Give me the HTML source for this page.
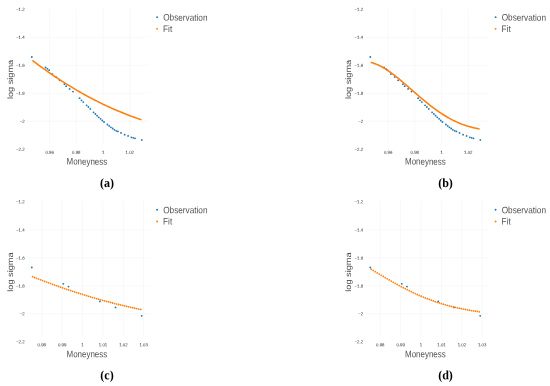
<!DOCTYPE html>
<html><head><meta charset="utf-8"><style>
html,body{margin:0;padding:0;background:#fff;}
svg{display:block;filter:blur(0.2px);}
text{text-rendering:geometricPrecision;}
.tk{font-family:"Liberation Sans",sans-serif;font-size:4.3px;fill:#3a3a3a;stroke:#3a3a3a;stroke-width:0.05px;}
.lg{font-family:"Liberation Sans",sans-serif;font-size:9.4px;fill:#525252;}
.yt{font-family:"Liberation Sans",sans-serif;font-size:9.3px;fill:#4c4c4c;}
.lab{font-family:"Liberation Serif",serif;font-size:12.8px;font-weight:bold;fill:#000;}
</style></head><body>
<svg width="550" height="386" viewBox="0 0 550 386">
<rect width="550" height="386" fill="#fff"/>
<g transform="translate(0,0)">
<line x1="27.2" x2="149.5" y1="37.3" y2="37.3" stroke="#f4f4f4" stroke-width="0.6"/>
<line x1="27.2" x2="149.5" y1="65.3" y2="65.3" stroke="#f4f4f4" stroke-width="0.6"/>
<line x1="27.2" x2="149.5" y1="93.3" y2="93.3" stroke="#f4f4f4" stroke-width="0.6"/>
<line x1="27.2" x2="149.5" y1="121.2" y2="121.2" stroke="#f4f4f4" stroke-width="0.6"/>
<line x1="49.6" x2="49.6" y1="8.6" y2="144" stroke="#f4f4f4" stroke-width="0.6"/>
<line x1="76.3" x2="76.3" y1="8.6" y2="144" stroke="#f4f4f4" stroke-width="0.6"/>
<line x1="103.1" x2="103.1" y1="8.6" y2="144" stroke="#f4f4f4" stroke-width="0.6"/>
<line x1="129.8" x2="129.8" y1="8.6" y2="144" stroke="#f4f4f4" stroke-width="0.6"/>
<text class="tk" transform="translate(24.6,10.75) rotate(0.1)" text-anchor="end">−1.2</text>
<text class="tk" transform="translate(24.6,38.85) rotate(0.1)" text-anchor="end">−1.4</text>
<text class="tk" transform="translate(24.6,66.85) rotate(0.1)" text-anchor="end">−1.6</text>
<text class="tk" transform="translate(24.6,94.85) rotate(0.1)" text-anchor="end">−1.8</text>
<text class="tk" transform="translate(24.6,122.75) rotate(0.1)" text-anchor="end">−2</text>
<text class="tk" transform="translate(24.6,150.75) rotate(0.1)" text-anchor="end">−2.2</text>
<text class="tk" transform="translate(49.6,153.7) rotate(0.1)" text-anchor="middle">0.96</text>
<text class="tk" transform="translate(76.3,153.7) rotate(0.1)" text-anchor="middle">0.98</text>
<text class="tk" transform="translate(103.1,153.7) rotate(0.1)" text-anchor="middle">1</text>
<text class="tk" transform="translate(129.8,153.7) rotate(0.1)" text-anchor="middle">1.02</text>
<circle cx="31.8" cy="57.0" r="0.92" fill="#1f77b4"/>
<circle cx="45.6" cy="67.5" r="0.92" fill="#1f77b4"/>
<circle cx="47.4" cy="68.8" r="0.92" fill="#1f77b4"/>
<circle cx="49.1" cy="70.2" r="0.92" fill="#1f77b4"/>
<circle cx="52.4" cy="74.1" r="0.92" fill="#1f77b4"/>
<circle cx="56.2" cy="77.1" r="0.92" fill="#1f77b4"/>
<circle cx="59.6" cy="80.3" r="0.92" fill="#1f77b4"/>
<circle cx="64.4" cy="84.2" r="0.92" fill="#1f77b4"/>
<circle cx="66.2" cy="86.2" r="0.92" fill="#1f77b4"/>
<circle cx="69.6" cy="88.9" r="0.92" fill="#1f77b4"/>
<circle cx="73.0" cy="91.6" r="0.92" fill="#1f77b4"/>
<circle cx="79.6" cy="98.2" r="0.92" fill="#1f77b4"/>
<circle cx="81.5" cy="100.3" r="0.92" fill="#1f77b4"/>
<circle cx="83.3" cy="102.1" r="0.92" fill="#1f77b4"/>
<circle cx="86.6" cy="105.3" r="0.92" fill="#1f77b4"/>
<circle cx="88.4" cy="107.0" r="0.92" fill="#1f77b4"/>
<circle cx="90.3" cy="108.9" r="0.92" fill="#1f77b4"/>
<circle cx="93.6" cy="112.3" r="0.92" fill="#1f77b4"/>
<circle cx="95.4" cy="114.0" r="0.92" fill="#1f77b4"/>
<circle cx="97.1" cy="115.7" r="0.92" fill="#1f77b4"/>
<circle cx="98.8" cy="117.3" r="0.92" fill="#1f77b4"/>
<circle cx="100.6" cy="118.8" r="0.92" fill="#1f77b4"/>
<circle cx="102.3" cy="120.5" r="0.92" fill="#1f77b4"/>
<circle cx="104.0" cy="122.0" r="0.92" fill="#1f77b4"/>
<circle cx="107.4" cy="124.5" r="0.92" fill="#1f77b4"/>
<circle cx="109.2" cy="125.9" r="0.92" fill="#1f77b4"/>
<circle cx="110.9" cy="127.3" r="0.92" fill="#1f77b4"/>
<circle cx="112.7" cy="128.5" r="0.92" fill="#1f77b4"/>
<circle cx="114.4" cy="129.8" r="0.92" fill="#1f77b4"/>
<circle cx="116.2" cy="130.8" r="0.92" fill="#1f77b4"/>
<circle cx="117.9" cy="131.4" r="0.92" fill="#1f77b4"/>
<circle cx="121.0" cy="132.9" r="0.92" fill="#1f77b4"/>
<circle cx="124.6" cy="134.7" r="0.92" fill="#1f77b4"/>
<circle cx="128.1" cy="135.9" r="0.92" fill="#1f77b4"/>
<circle cx="131.4" cy="137.3" r="0.92" fill="#1f77b4"/>
<circle cx="133.2" cy="137.8" r="0.92" fill="#1f77b4"/>
<circle cx="135.0" cy="138.3" r="0.92" fill="#1f77b4"/>
<circle cx="141.8" cy="139.9" r="0.92" fill="#1f77b4"/>
<path d="M32.40,60.46 L33.63,61.39 L34.85,62.31 L36.08,63.23 L37.30,64.14 L38.53,65.04 L39.76,65.94 L40.98,66.84 L42.21,67.72 L43.43,68.60 L44.66,69.48 L45.88,70.35 L47.11,71.21 L48.34,72.06 L49.56,72.91 L50.79,73.76 L52.01,74.60 L53.24,75.43 L54.47,76.26 L55.69,77.08 L56.92,77.89 L58.14,78.70 L59.37,79.50 L60.59,80.30 L61.82,81.09 L63.05,81.87 L64.27,82.65 L65.50,83.42 L66.72,84.19 L67.95,84.95 L69.18,85.71 L70.40,86.46 L71.63,87.20 L72.85,87.93 L74.08,88.67 L75.30,89.39 L76.53,90.11 L77.76,90.82 L78.98,91.53 L80.21,92.23 L81.43,92.93 L82.66,93.62 L83.89,94.30 L85.11,94.98 L86.34,95.65 L87.56,96.31 L88.79,96.97 L90.01,97.63 L91.24,98.28 L92.47,98.92 L93.69,99.55 L94.92,100.19 L96.14,100.81 L97.37,101.43 L98.60,102.04 L99.82,102.65 L101.05,103.25 L102.27,103.84 L103.50,104.43 L104.72,105.02 L105.95,105.59 L107.18,106.16 L108.40,106.73 L109.63,107.29 L110.85,107.84 L112.08,108.39 L113.31,108.93 L114.53,109.47 L115.76,110.00 L116.98,110.53 L118.21,111.04 L119.43,111.56 L120.66,112.07 L121.89,112.57 L123.11,113.06 L124.34,113.55 L125.56,114.04 L126.79,114.51 L128.02,114.99 L129.24,115.45 L130.47,115.91 L131.69,116.37 L132.92,116.82 L134.14,117.26 L135.37,117.70 L136.60,118.13 L137.82,118.55 L139.05,118.97 L140.27,119.39 L141.50,119.80" fill="none" stroke="#ff7f0e" stroke-width="1.55" stroke-linejoin="round"/>
<circle cx="157.1" cy="17.15" r="0.95" fill="#1f77b4"/>
<circle cx="157.1" cy="28.85" r="0.95" fill="#ff7f0e"/>
<text class="lg" transform="translate(163.2,20.6) rotate(0.1)" textLength="44.3" lengthAdjust="spacingAndGlyphs">Observation</text>
<text class="lg" transform="translate(163.1,31.9) rotate(0.1)" textLength="9.1" lengthAdjust="spacingAndGlyphs">Fit</text>
<text class="lg" transform="translate(66.5,164.6) rotate(0.1)" textLength="40.7" lengthAdjust="spacingAndGlyphs">Moneyness</text>
<text class="yt" transform="translate(12.7,99.1) scale(0.85,1) rotate(-90)" x="0" y="0" textLength="39.3" lengthAdjust="spacingAndGlyphs">log sigma</text>
<text class="lab" transform="translate(107.0,186.95) rotate(0.1) scale(0.94,1)" text-anchor="middle">(a)</text>
</g>
<g transform="translate(338.5,0)">
<line x1="27.2" x2="149.5" y1="37.3" y2="37.3" stroke="#f4f4f4" stroke-width="0.6"/>
<line x1="27.2" x2="149.5" y1="65.3" y2="65.3" stroke="#f4f4f4" stroke-width="0.6"/>
<line x1="27.2" x2="149.5" y1="93.3" y2="93.3" stroke="#f4f4f4" stroke-width="0.6"/>
<line x1="27.2" x2="149.5" y1="121.2" y2="121.2" stroke="#f4f4f4" stroke-width="0.6"/>
<line x1="49.6" x2="49.6" y1="8.6" y2="144" stroke="#f4f4f4" stroke-width="0.6"/>
<line x1="76.3" x2="76.3" y1="8.6" y2="144" stroke="#f4f4f4" stroke-width="0.6"/>
<line x1="103.1" x2="103.1" y1="8.6" y2="144" stroke="#f4f4f4" stroke-width="0.6"/>
<line x1="129.8" x2="129.8" y1="8.6" y2="144" stroke="#f4f4f4" stroke-width="0.6"/>
<text class="tk" transform="translate(24.6,10.75) rotate(0.1)" text-anchor="end">−1.2</text>
<text class="tk" transform="translate(24.6,38.85) rotate(0.1)" text-anchor="end">−1.4</text>
<text class="tk" transform="translate(24.6,66.85) rotate(0.1)" text-anchor="end">−1.6</text>
<text class="tk" transform="translate(24.6,94.85) rotate(0.1)" text-anchor="end">−1.8</text>
<text class="tk" transform="translate(24.6,122.75) rotate(0.1)" text-anchor="end">−2</text>
<text class="tk" transform="translate(24.6,150.75) rotate(0.1)" text-anchor="end">−2.2</text>
<text class="tk" transform="translate(49.6,153.7) rotate(0.1)" text-anchor="middle">0.96</text>
<text class="tk" transform="translate(76.3,153.7) rotate(0.1)" text-anchor="middle">0.98</text>
<text class="tk" transform="translate(103.1,153.7) rotate(0.1)" text-anchor="middle">1</text>
<text class="tk" transform="translate(129.8,153.7) rotate(0.1)" text-anchor="middle">1.02</text>
<circle cx="31.8" cy="57.0" r="0.92" fill="#1f77b4"/>
<circle cx="45.6" cy="67.5" r="0.92" fill="#1f77b4"/>
<circle cx="47.4" cy="68.8" r="0.92" fill="#1f77b4"/>
<circle cx="49.1" cy="70.2" r="0.92" fill="#1f77b4"/>
<circle cx="52.4" cy="74.1" r="0.92" fill="#1f77b4"/>
<circle cx="56.2" cy="77.1" r="0.92" fill="#1f77b4"/>
<circle cx="59.6" cy="80.3" r="0.92" fill="#1f77b4"/>
<circle cx="64.4" cy="84.2" r="0.92" fill="#1f77b4"/>
<circle cx="66.2" cy="86.2" r="0.92" fill="#1f77b4"/>
<circle cx="69.6" cy="88.9" r="0.92" fill="#1f77b4"/>
<circle cx="73.0" cy="91.6" r="0.92" fill="#1f77b4"/>
<circle cx="79.6" cy="98.2" r="0.92" fill="#1f77b4"/>
<circle cx="81.5" cy="100.3" r="0.92" fill="#1f77b4"/>
<circle cx="83.3" cy="102.1" r="0.92" fill="#1f77b4"/>
<circle cx="86.6" cy="105.3" r="0.92" fill="#1f77b4"/>
<circle cx="88.4" cy="107.0" r="0.92" fill="#1f77b4"/>
<circle cx="90.3" cy="108.9" r="0.92" fill="#1f77b4"/>
<circle cx="93.6" cy="112.3" r="0.92" fill="#1f77b4"/>
<circle cx="95.4" cy="114.0" r="0.92" fill="#1f77b4"/>
<circle cx="97.1" cy="115.7" r="0.92" fill="#1f77b4"/>
<circle cx="98.8" cy="117.3" r="0.92" fill="#1f77b4"/>
<circle cx="100.6" cy="118.8" r="0.92" fill="#1f77b4"/>
<circle cx="102.3" cy="120.5" r="0.92" fill="#1f77b4"/>
<circle cx="104.0" cy="122.0" r="0.92" fill="#1f77b4"/>
<circle cx="107.4" cy="124.5" r="0.92" fill="#1f77b4"/>
<circle cx="109.2" cy="125.9" r="0.92" fill="#1f77b4"/>
<circle cx="110.9" cy="127.3" r="0.92" fill="#1f77b4"/>
<circle cx="112.7" cy="128.5" r="0.92" fill="#1f77b4"/>
<circle cx="114.4" cy="129.8" r="0.92" fill="#1f77b4"/>
<circle cx="116.2" cy="130.8" r="0.92" fill="#1f77b4"/>
<circle cx="117.9" cy="131.4" r="0.92" fill="#1f77b4"/>
<circle cx="121.0" cy="132.9" r="0.92" fill="#1f77b4"/>
<circle cx="124.6" cy="134.7" r="0.92" fill="#1f77b4"/>
<circle cx="128.1" cy="135.9" r="0.92" fill="#1f77b4"/>
<circle cx="131.4" cy="137.3" r="0.92" fill="#1f77b4"/>
<circle cx="133.2" cy="137.8" r="0.92" fill="#1f77b4"/>
<circle cx="135.0" cy="138.3" r="0.92" fill="#1f77b4"/>
<circle cx="141.8" cy="139.9" r="0.92" fill="#1f77b4"/>
<path d="M32.20,62.37 L33.42,62.68 L34.65,63.04 L35.87,63.44 L37.10,63.90 L38.32,64.39 L39.55,64.93 L40.77,65.51 L42.00,66.13 L43.22,66.78 L44.45,67.47 L45.67,68.19 L46.90,68.95 L48.12,69.73 L49.35,70.54 L50.57,71.38 L51.80,72.25 L53.02,73.13 L54.24,74.04 L55.47,74.97 L56.69,75.92 L57.92,76.89 L59.14,77.87 L60.37,78.87 L61.59,79.88 L62.82,80.90 L64.04,81.94 L65.27,82.98 L66.49,84.03 L67.72,85.08 L68.94,86.15 L70.17,87.21 L71.39,88.28 L72.62,89.35 L73.84,90.42 L75.07,91.49 L76.29,92.56 L77.51,93.62 L78.74,94.68 L79.96,95.74 L81.19,96.79 L82.41,97.83 L83.64,98.86 L84.86,99.89 L86.09,100.91 L87.31,101.91 L88.54,102.91 L89.76,103.89 L90.99,104.86 L92.21,105.82 L93.44,106.76 L94.66,107.69 L95.89,108.60 L97.11,109.49 L98.33,110.37 L99.56,111.23 L100.78,112.08 L102.01,112.90 L103.23,113.71 L104.46,114.50 L105.68,115.27 L106.91,116.02 L108.13,116.75 L109.36,117.46 L110.58,118.15 L111.81,118.82 L113.03,119.47 L114.26,120.09 L115.48,120.70 L116.71,121.29 L117.93,121.85 L119.16,122.40 L120.38,122.92 L121.60,123.43 L122.83,123.91 L124.05,124.38 L125.28,124.82 L126.50,125.24 L127.73,125.65 L128.95,126.04 L130.18,126.40 L131.40,126.75 L132.63,127.09 L133.85,127.40 L135.08,127.70 L136.30,127.99 L137.53,128.26 L138.75,128.51 L139.98,128.76 L141.20,128.98" fill="none" stroke="#ff7f0e" stroke-width="1.55" stroke-linejoin="round"/>
<circle cx="157.1" cy="17.15" r="0.95" fill="#1f77b4"/>
<circle cx="157.1" cy="28.85" r="0.95" fill="#ff7f0e"/>
<text class="lg" transform="translate(163.2,20.6) rotate(0.1)" textLength="44.3" lengthAdjust="spacingAndGlyphs">Observation</text>
<text class="lg" transform="translate(163.1,31.9) rotate(0.1)" textLength="9.1" lengthAdjust="spacingAndGlyphs">Fit</text>
<text class="lg" transform="translate(66.5,164.6) rotate(0.1)" textLength="40.7" lengthAdjust="spacingAndGlyphs">Moneyness</text>
<text class="yt" transform="translate(12.7,99.1) scale(0.85,1) rotate(-90)" x="0" y="0" textLength="39.3" lengthAdjust="spacingAndGlyphs">log sigma</text>
<text class="lab" transform="translate(107.0,186.95) rotate(0.1) scale(0.94,1)" text-anchor="middle">(b)</text>
</g>
<g transform="translate(0,192.6)">
<line x1="27.2" x2="149.5" y1="37.3" y2="37.3" stroke="#f4f4f4" stroke-width="0.6"/>
<line x1="27.2" x2="149.5" y1="65.3" y2="65.3" stroke="#f4f4f4" stroke-width="0.6"/>
<line x1="27.2" x2="149.5" y1="93.3" y2="93.3" stroke="#f4f4f4" stroke-width="0.6"/>
<line x1="27.2" x2="149.5" y1="121.2" y2="121.2" stroke="#f4f4f4" stroke-width="0.6"/>
<line x1="41.8" x2="41.8" y1="8.6" y2="143.6" stroke="#f4f4f4" stroke-width="0.6"/>
<line x1="62.1" x2="62.1" y1="8.6" y2="143.6" stroke="#f4f4f4" stroke-width="0.6"/>
<line x1="82.5" x2="82.5" y1="8.6" y2="143.6" stroke="#f4f4f4" stroke-width="0.6"/>
<line x1="103.0" x2="103.0" y1="8.6" y2="143.6" stroke="#f4f4f4" stroke-width="0.6"/>
<line x1="123.4" x2="123.4" y1="8.6" y2="143.6" stroke="#f4f4f4" stroke-width="0.6"/>
<line x1="143.6" x2="143.6" y1="8.6" y2="143.6" stroke="#f4f4f4" stroke-width="0.6"/>
<text class="tk" transform="translate(24.6,10.75) rotate(0.1)" text-anchor="end">−1.2</text>
<text class="tk" transform="translate(24.6,38.85) rotate(0.1)" text-anchor="end">−1.4</text>
<text class="tk" transform="translate(24.6,66.85) rotate(0.1)" text-anchor="end">−1.6</text>
<text class="tk" transform="translate(24.6,94.85) rotate(0.1)" text-anchor="end">−1.8</text>
<text class="tk" transform="translate(24.6,122.75) rotate(0.1)" text-anchor="end">−2</text>
<text class="tk" transform="translate(24.6,150.75) rotate(0.1)" text-anchor="end">−2.2</text>
<text class="tk" transform="translate(41.8,153.7) rotate(0.1)" text-anchor="middle">0.98</text>
<text class="tk" transform="translate(62.1,153.7) rotate(0.1)" text-anchor="middle">0.99</text>
<text class="tk" transform="translate(82.5,153.7) rotate(0.1)" text-anchor="middle">1</text>
<text class="tk" transform="translate(103.0,153.7) rotate(0.1)" text-anchor="middle">1.01</text>
<text class="tk" transform="translate(123.4,153.7) rotate(0.1)" text-anchor="middle">1.02</text>
<text class="tk" transform="translate(143.6,153.7) rotate(0.1)" text-anchor="middle">1.03</text>
<circle cx="31.8" cy="74.9" r="0.92" fill="#1f77b4"/>
<circle cx="63.3" cy="91.2" r="0.92" fill="#1f77b4"/>
<circle cx="68.5" cy="94.0" r="0.92" fill="#1f77b4"/>
<circle cx="99.8" cy="108.8" r="0.92" fill="#1f77b4"/>
<circle cx="115.5" cy="114.8" r="0.92" fill="#1f77b4"/>
<circle cx="141.7" cy="123.2" r="0.92" fill="#1f77b4"/>
<circle cx="32.60" cy="84.11" r="0.88" fill="#ff7f0e"/>
<circle cx="34.60" cy="84.90" r="0.88" fill="#ff7f0e"/>
<circle cx="36.60" cy="85.69" r="0.88" fill="#ff7f0e"/>
<circle cx="38.61" cy="86.47" r="0.88" fill="#ff7f0e"/>
<circle cx="40.61" cy="87.24" r="0.88" fill="#ff7f0e"/>
<circle cx="42.61" cy="88.01" r="0.88" fill="#ff7f0e"/>
<circle cx="44.61" cy="88.77" r="0.88" fill="#ff7f0e"/>
<circle cx="46.61" cy="89.52" r="0.88" fill="#ff7f0e"/>
<circle cx="48.61" cy="90.27" r="0.88" fill="#ff7f0e"/>
<circle cx="50.62" cy="91.01" r="0.88" fill="#ff7f0e"/>
<circle cx="52.62" cy="91.74" r="0.88" fill="#ff7f0e"/>
<circle cx="54.62" cy="92.47" r="0.88" fill="#ff7f0e"/>
<circle cx="56.62" cy="93.19" r="0.88" fill="#ff7f0e"/>
<circle cx="58.62" cy="93.90" r="0.88" fill="#ff7f0e"/>
<circle cx="60.63" cy="94.60" r="0.88" fill="#ff7f0e"/>
<circle cx="62.63" cy="95.30" r="0.88" fill="#ff7f0e"/>
<circle cx="64.63" cy="95.99" r="0.88" fill="#ff7f0e"/>
<circle cx="66.63" cy="96.67" r="0.88" fill="#ff7f0e"/>
<circle cx="68.63" cy="97.35" r="0.88" fill="#ff7f0e"/>
<circle cx="70.64" cy="98.02" r="0.88" fill="#ff7f0e"/>
<circle cx="72.64" cy="98.68" r="0.88" fill="#ff7f0e"/>
<circle cx="74.64" cy="99.34" r="0.88" fill="#ff7f0e"/>
<circle cx="76.64" cy="99.98" r="0.88" fill="#ff7f0e"/>
<circle cx="78.64" cy="100.62" r="0.88" fill="#ff7f0e"/>
<circle cx="80.64" cy="101.26" r="0.88" fill="#ff7f0e"/>
<circle cx="82.65" cy="101.88" r="0.88" fill="#ff7f0e"/>
<circle cx="84.65" cy="102.50" r="0.88" fill="#ff7f0e"/>
<circle cx="86.65" cy="103.11" r="0.88" fill="#ff7f0e"/>
<circle cx="88.65" cy="103.72" r="0.88" fill="#ff7f0e"/>
<circle cx="90.65" cy="104.32" r="0.88" fill="#ff7f0e"/>
<circle cx="92.66" cy="104.91" r="0.88" fill="#ff7f0e"/>
<circle cx="94.66" cy="105.49" r="0.88" fill="#ff7f0e"/>
<circle cx="96.66" cy="106.06" r="0.88" fill="#ff7f0e"/>
<circle cx="98.66" cy="106.63" r="0.88" fill="#ff7f0e"/>
<circle cx="100.66" cy="107.19" r="0.88" fill="#ff7f0e"/>
<circle cx="102.66" cy="107.74" r="0.88" fill="#ff7f0e"/>
<circle cx="104.67" cy="108.29" r="0.88" fill="#ff7f0e"/>
<circle cx="106.67" cy="108.83" r="0.88" fill="#ff7f0e"/>
<circle cx="108.67" cy="109.36" r="0.88" fill="#ff7f0e"/>
<circle cx="110.67" cy="109.88" r="0.88" fill="#ff7f0e"/>
<circle cx="112.67" cy="110.40" r="0.88" fill="#ff7f0e"/>
<circle cx="114.68" cy="110.91" r="0.88" fill="#ff7f0e"/>
<circle cx="116.68" cy="111.41" r="0.88" fill="#ff7f0e"/>
<circle cx="118.68" cy="111.90" r="0.88" fill="#ff7f0e"/>
<circle cx="120.68" cy="112.39" r="0.88" fill="#ff7f0e"/>
<circle cx="122.68" cy="112.87" r="0.88" fill="#ff7f0e"/>
<circle cx="124.69" cy="113.34" r="0.88" fill="#ff7f0e"/>
<circle cx="126.69" cy="113.80" r="0.88" fill="#ff7f0e"/>
<circle cx="128.69" cy="114.25" r="0.88" fill="#ff7f0e"/>
<circle cx="130.69" cy="114.70" r="0.88" fill="#ff7f0e"/>
<circle cx="132.69" cy="115.14" r="0.88" fill="#ff7f0e"/>
<circle cx="134.69" cy="115.58" r="0.88" fill="#ff7f0e"/>
<circle cx="136.70" cy="116.00" r="0.88" fill="#ff7f0e"/>
<circle cx="138.70" cy="116.42" r="0.88" fill="#ff7f0e"/>
<circle cx="140.70" cy="116.83" r="0.88" fill="#ff7f0e"/>
<circle cx="157.1" cy="17.15" r="0.95" fill="#1f77b4"/>
<circle cx="157.1" cy="28.85" r="0.95" fill="#ff7f0e"/>
<text class="lg" transform="translate(163.2,20.6) rotate(0.1)" textLength="44.3" lengthAdjust="spacingAndGlyphs">Observation</text>
<text class="lg" transform="translate(163.1,31.9) rotate(0.1)" textLength="9.1" lengthAdjust="spacingAndGlyphs">Fit</text>
<text class="lg" transform="translate(66.5,164.6) rotate(0.1)" textLength="40.7" lengthAdjust="spacingAndGlyphs">Moneyness</text>
<text class="yt" transform="translate(12.7,99.1) scale(0.85,1) rotate(-90)" x="0" y="0" textLength="39.3" lengthAdjust="spacingAndGlyphs">log sigma</text>
<text class="lab" transform="translate(107.0,186.55) rotate(0.1) scale(0.94,1)" text-anchor="middle">(c)</text>
</g>
<g transform="translate(338.5,192.6)">
<line x1="27.2" x2="149.5" y1="37.3" y2="37.3" stroke="#f4f4f4" stroke-width="0.6"/>
<line x1="27.2" x2="149.5" y1="65.3" y2="65.3" stroke="#f4f4f4" stroke-width="0.6"/>
<line x1="27.2" x2="149.5" y1="93.3" y2="93.3" stroke="#f4f4f4" stroke-width="0.6"/>
<line x1="27.2" x2="149.5" y1="121.2" y2="121.2" stroke="#f4f4f4" stroke-width="0.6"/>
<line x1="41.8" x2="41.8" y1="8.6" y2="143.6" stroke="#f4f4f4" stroke-width="0.6"/>
<line x1="62.1" x2="62.1" y1="8.6" y2="143.6" stroke="#f4f4f4" stroke-width="0.6"/>
<line x1="82.5" x2="82.5" y1="8.6" y2="143.6" stroke="#f4f4f4" stroke-width="0.6"/>
<line x1="103.0" x2="103.0" y1="8.6" y2="143.6" stroke="#f4f4f4" stroke-width="0.6"/>
<line x1="123.4" x2="123.4" y1="8.6" y2="143.6" stroke="#f4f4f4" stroke-width="0.6"/>
<line x1="143.6" x2="143.6" y1="8.6" y2="143.6" stroke="#f4f4f4" stroke-width="0.6"/>
<text class="tk" transform="translate(24.6,10.75) rotate(0.1)" text-anchor="end">−1.2</text>
<text class="tk" transform="translate(24.6,38.85) rotate(0.1)" text-anchor="end">−1.4</text>
<text class="tk" transform="translate(24.6,66.85) rotate(0.1)" text-anchor="end">−1.6</text>
<text class="tk" transform="translate(24.6,94.85) rotate(0.1)" text-anchor="end">−1.8</text>
<text class="tk" transform="translate(24.6,122.75) rotate(0.1)" text-anchor="end">−2</text>
<text class="tk" transform="translate(24.6,150.75) rotate(0.1)" text-anchor="end">−2.2</text>
<text class="tk" transform="translate(41.8,153.7) rotate(0.1)" text-anchor="middle">0.98</text>
<text class="tk" transform="translate(62.1,153.7) rotate(0.1)" text-anchor="middle">0.99</text>
<text class="tk" transform="translate(82.5,153.7) rotate(0.1)" text-anchor="middle">1</text>
<text class="tk" transform="translate(103.0,153.7) rotate(0.1)" text-anchor="middle">1.01</text>
<text class="tk" transform="translate(123.4,153.7) rotate(0.1)" text-anchor="middle">1.02</text>
<text class="tk" transform="translate(143.6,153.7) rotate(0.1)" text-anchor="middle">1.03</text>
<circle cx="31.8" cy="74.9" r="0.92" fill="#1f77b4"/>
<circle cx="63.3" cy="91.2" r="0.92" fill="#1f77b4"/>
<circle cx="68.5" cy="94.0" r="0.92" fill="#1f77b4"/>
<circle cx="99.8" cy="108.8" r="0.92" fill="#1f77b4"/>
<circle cx="115.5" cy="114.8" r="0.92" fill="#1f77b4"/>
<circle cx="141.7" cy="123.2" r="0.92" fill="#1f77b4"/>
<circle cx="32.70" cy="76.68" r="0.88" fill="#ff7f0e"/>
<circle cx="34.70" cy="77.89" r="0.88" fill="#ff7f0e"/>
<circle cx="36.70" cy="79.09" r="0.88" fill="#ff7f0e"/>
<circle cx="38.71" cy="80.30" r="0.88" fill="#ff7f0e"/>
<circle cx="40.71" cy="81.50" r="0.88" fill="#ff7f0e"/>
<circle cx="42.71" cy="82.69" r="0.88" fill="#ff7f0e"/>
<circle cx="44.71" cy="83.88" r="0.88" fill="#ff7f0e"/>
<circle cx="46.71" cy="85.05" r="0.88" fill="#ff7f0e"/>
<circle cx="48.71" cy="86.22" r="0.88" fill="#ff7f0e"/>
<circle cx="50.72" cy="87.38" r="0.88" fill="#ff7f0e"/>
<circle cx="52.72" cy="88.53" r="0.88" fill="#ff7f0e"/>
<circle cx="54.72" cy="89.66" r="0.88" fill="#ff7f0e"/>
<circle cx="56.72" cy="90.78" r="0.88" fill="#ff7f0e"/>
<circle cx="58.72" cy="91.88" r="0.88" fill="#ff7f0e"/>
<circle cx="60.73" cy="92.97" r="0.88" fill="#ff7f0e"/>
<circle cx="62.73" cy="94.04" r="0.88" fill="#ff7f0e"/>
<circle cx="64.73" cy="95.09" r="0.88" fill="#ff7f0e"/>
<circle cx="66.73" cy="96.13" r="0.88" fill="#ff7f0e"/>
<circle cx="68.73" cy="97.14" r="0.88" fill="#ff7f0e"/>
<circle cx="70.74" cy="98.14" r="0.88" fill="#ff7f0e"/>
<circle cx="72.74" cy="99.11" r="0.88" fill="#ff7f0e"/>
<circle cx="74.74" cy="100.06" r="0.88" fill="#ff7f0e"/>
<circle cx="76.74" cy="100.99" r="0.88" fill="#ff7f0e"/>
<circle cx="78.74" cy="101.90" r="0.88" fill="#ff7f0e"/>
<circle cx="80.74" cy="102.79" r="0.88" fill="#ff7f0e"/>
<circle cx="82.75" cy="103.65" r="0.88" fill="#ff7f0e"/>
<circle cx="84.75" cy="104.49" r="0.88" fill="#ff7f0e"/>
<circle cx="86.75" cy="105.31" r="0.88" fill="#ff7f0e"/>
<circle cx="88.75" cy="106.10" r="0.88" fill="#ff7f0e"/>
<circle cx="90.75" cy="106.87" r="0.88" fill="#ff7f0e"/>
<circle cx="92.76" cy="107.62" r="0.88" fill="#ff7f0e"/>
<circle cx="94.76" cy="108.34" r="0.88" fill="#ff7f0e"/>
<circle cx="96.76" cy="109.04" r="0.88" fill="#ff7f0e"/>
<circle cx="98.76" cy="109.71" r="0.88" fill="#ff7f0e"/>
<circle cx="100.76" cy="110.36" r="0.88" fill="#ff7f0e"/>
<circle cx="102.76" cy="110.99" r="0.88" fill="#ff7f0e"/>
<circle cx="104.77" cy="111.59" r="0.88" fill="#ff7f0e"/>
<circle cx="106.77" cy="112.17" r="0.88" fill="#ff7f0e"/>
<circle cx="108.77" cy="112.73" r="0.88" fill="#ff7f0e"/>
<circle cx="110.77" cy="113.27" r="0.88" fill="#ff7f0e"/>
<circle cx="112.77" cy="113.78" r="0.88" fill="#ff7f0e"/>
<circle cx="114.78" cy="114.28" r="0.88" fill="#ff7f0e"/>
<circle cx="116.78" cy="114.75" r="0.88" fill="#ff7f0e"/>
<circle cx="118.78" cy="115.21" r="0.88" fill="#ff7f0e"/>
<circle cx="120.78" cy="115.64" r="0.88" fill="#ff7f0e"/>
<circle cx="122.78" cy="116.06" r="0.88" fill="#ff7f0e"/>
<circle cx="124.79" cy="116.46" r="0.88" fill="#ff7f0e"/>
<circle cx="126.79" cy="116.85" r="0.88" fill="#ff7f0e"/>
<circle cx="128.79" cy="117.21" r="0.88" fill="#ff7f0e"/>
<circle cx="130.79" cy="117.57" r="0.88" fill="#ff7f0e"/>
<circle cx="132.79" cy="117.91" r="0.88" fill="#ff7f0e"/>
<circle cx="134.79" cy="118.24" r="0.88" fill="#ff7f0e"/>
<circle cx="136.80" cy="118.56" r="0.88" fill="#ff7f0e"/>
<circle cx="138.80" cy="118.86" r="0.88" fill="#ff7f0e"/>
<circle cx="140.80" cy="119.16" r="0.88" fill="#ff7f0e"/>
<circle cx="157.1" cy="17.15" r="0.95" fill="#1f77b4"/>
<circle cx="157.1" cy="28.85" r="0.95" fill="#ff7f0e"/>
<text class="lg" transform="translate(163.2,20.6) rotate(0.1)" textLength="44.3" lengthAdjust="spacingAndGlyphs">Observation</text>
<text class="lg" transform="translate(163.1,31.9) rotate(0.1)" textLength="9.1" lengthAdjust="spacingAndGlyphs">Fit</text>
<text class="lg" transform="translate(66.5,164.6) rotate(0.1)" textLength="40.7" lengthAdjust="spacingAndGlyphs">Moneyness</text>
<text class="yt" transform="translate(12.7,99.1) scale(0.85,1) rotate(-90)" x="0" y="0" textLength="39.3" lengthAdjust="spacingAndGlyphs">log sigma</text>
<text class="lab" transform="translate(107.0,186.55) rotate(0.1) scale(0.94,1)" text-anchor="middle">(d)</text>
</g>
</svg>
</body></html>
